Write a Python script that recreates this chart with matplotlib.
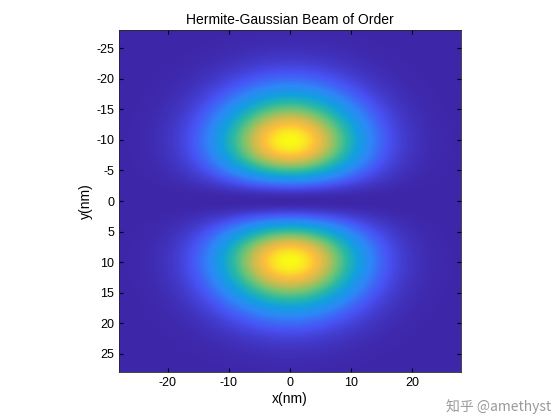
import numpy as np
import matplotlib.pyplot as plt
from matplotlib.colors import LinearSegmentedColormap

plt.rcParams["font.family"] = ["Liberation Sans", "DejaVu Sans"]
plt.rcParams["axes.unicode_minus"] = False

# beam parameters
waist_x = 16.0      # nm, width along x
waist_y = 14.0      # nm, width along y (peaks at +-10)
order_m, order_n = 0, 1
half_span = 28.0
n_pts = 300

xticks = [-20, -10, 0, 10, 20]
yticks = [-25, -20, -15, -10, -5, 0, 5, 10, 15, 20, 25]

parula_pts = [
    (0.000, (0.2422, 0.1504, 0.6603)),
    (0.125, (0.2810, 0.3228, 0.9579)),
    (0.250, (0.1786, 0.5289, 0.9682)),
    (0.375, (0.0689, 0.6279, 0.8717)),
    (0.500, (0.1540, 0.7208, 0.6508)),
    (0.625, (0.4420, 0.7681, 0.4533)),
    (0.750, (0.7752, 0.7387, 0.3178)),
    (0.875, (0.9932, 0.7439, 0.2400)),
    (1.000, (0.9769, 0.9839, 0.0805)),
]
parula = LinearSegmentedColormap.from_list("parula", parula_pts)

x = np.linspace(-half_span, half_span, n_pts)
X, Y = np.meshgrid(x, x)
hx = np.ones_like(X) if order_m == 0 else 2 * np.sqrt(2) * X / waist_x
hy = 2 * np.sqrt(2) * Y / waist_y
I = (hx * hy) ** 2 * np.exp(-2 * X**2 / waist_x**2 - 2 * Y**2 / waist_y**2)

fig = plt.figure(figsize=(5.6, 4.2), dpi=100)
ax = fig.add_axes([119 / 560, 48 / 420, 342 / 560, 342 / 420])
ax.imshow(I, cmap=parula, extent=[-half_span, half_span, half_span, -half_span],
          interpolation="bilinear", aspect="auto")
ax.set_xlim(-half_span, half_span)
ax.set_ylim(half_span, -half_span)
ax.set_xticks(xticks)
ax.set_yticks(yticks)
ax.tick_params(direction="in", labelsize=9, length=3, top=True, right=True)
ax.set_xlabel("x(nm)", fontsize=10, labelpad=2)
ax.set_ylabel("y(nm)", fontsize=10, labelpad=2)
ax.set_title("Hermite-Gaussian Beam of Order", fontsize=10, pad=4)
for s in ax.spines.values():
    s.set_color("#262626")
    s.set_linewidth(0.6)

fig.text(0.985, 0.015, "知乎 @amethyst", ha="right", va="bottom", fontsize=10,
         color="#9a9a9a", family=["Noto Sans CJK SC", "DejaVu Sans"])

fig.savefig("out.png", dpi=100)
